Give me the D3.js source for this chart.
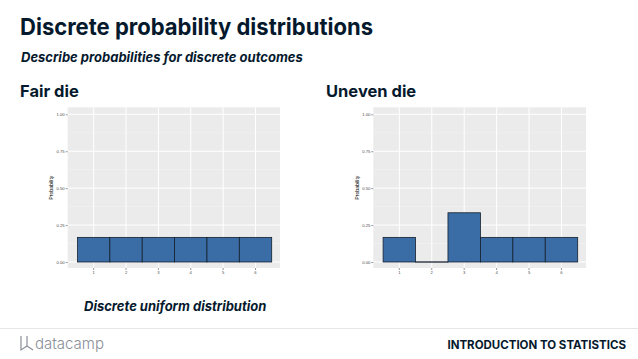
<!DOCTYPE html>
<html><head><meta charset="utf-8">
<script src="https://cdn.jsdelivr.net/npm/d3@7"></script>
<style>body{margin:0;background:#fff}svg{display:block}</style>
</head><body>
<svg id="c" width="638" height="359"></svg>
<script>
const categories = ["1","2","3","4","5","6"];
const fairProb = [1/6,1/6,1/6,1/6,1/6,1/6];
const unevenProb = [1/6,0,2/6,1/6,1/6,1/6];
const yTicks = [0,0.25,0.5,0.75,1];
const yMinor = [0.125,0.375,0.625,0.875];

const svg = d3.select("#c");
const navy = "#05192D";
const font = "Inter, 'Noto Sans', sans-serif";

svg.append("text").attr("x",20).attr("y",35).attr("font-family",font).attr("font-weight",700)
  .attr("font-size",23).attr("fill",navy).attr("textLength",353).attr("lengthAdjust","spacingAndGlyphs")
  .text("Discrete probability distributions");
svg.append("text").attr("x",21).attr("y",62).attr("font-family",font).attr("font-weight",700)
  .attr("font-style","italic").attr("font-size",13).attr("fill",navy).text("Describe probabilities for discrete outcomes");
svg.append("text").attr("x",20).attr("y",97).attr("font-family",font).attr("font-weight",700)
  .attr("font-size",16.5).attr("fill",navy).text("Fair die");
svg.append("text").attr("x",326).attr("y",97).attr("font-family",font).attr("font-weight",700)
  .attr("font-size",16.5).attr("fill",navy).text("Uneven die");
svg.append("text").attr("x",84).attr("y",311).attr("font-family",font).attr("font-weight",700)
  .attr("font-style","italic").attr("font-size",13).attr("fill",navy).text("Discrete uniform distribution");

function panel(x0,x1,vals){
  const top=107.3,bottom=268;
  const y = d3.scaleLinear().domain([0,1]).range([262,114.3]);
  const x = d3.scaleBand().domain(categories).range([x0+9.8,x1-8.3]).paddingInner(0).paddingOuter(0);
  const g = svg.append("g");
  g.append("rect").attr("x",x0).attr("y",top).attr("width",x1-x0).attr("height",bottom-top).attr("fill","#EBEBEB");
  g.selectAll(".mn").data(yMinor).join("line").attr("x1",x0).attr("x2",x1)
    .attr("y1",d=>y(d)).attr("y2",d=>y(d)).attr("stroke","#F5F5F5").attr("stroke-width",0.5);
  g.selectAll(".mj").data(yTicks).join("line").attr("x1",x0).attr("x2",x1)
    .attr("y1",d=>y(d)).attr("y2",d=>y(d)).attr("stroke","#fff").attr("stroke-width",1);
  g.selectAll(".vx").data(categories).join("line").attr("y1",top).attr("y2",bottom)
    .attr("x1",d=>x(d)+x.bandwidth()/2).attr("x2",d=>x(d)+x.bandwidth()/2).attr("stroke","#fff").attr("stroke-width",1);
  g.selectAll(".bar").data(vals).join("rect")
    .attr("x",(d,i)=>x(categories[i])).attr("width",x.bandwidth())
    .attr("y",d=>y(d)).attr("height",d=>Math.max(0.01,y(0)-y(d)))
    .attr("fill","#3A6CA6").attr("stroke","#14202E").attr("stroke-width",0.8);
  g.selectAll(".zero").data(vals.map((v,i)=>[v,i]).filter(d=>d[0]===0)).join("line")
    .attr("x1",d=>x(categories[d[1]])).attr("x2",d=>x(categories[d[1]])+x.bandwidth())
    .attr("y1",y(0)).attr("y2",y(0)).attr("stroke","#14202E").attr("stroke-width",0.8);
  const ya = d3.axisLeft(y).tickValues(yTicks).tickFormat(d3.format(".2f")).tickSize(2).tickPadding(1);
  const yg = g.append("g").attr("transform",`translate(${x0},0)`).call(ya);
  yg.select(".domain").remove();
  yg.selectAll("line").attr("stroke","#333").attr("stroke-width",0.5);
  yg.selectAll("text").attr("font-size",4.2).attr("fill","#4D4D4D").attr("font-family","'Liberation Sans',Arial,sans-serif");
  const xa = d3.axisBottom(x).tickSize(2).tickPadding(1.5);
  const xg = g.append("g").attr("transform",`translate(0,${bottom})`).call(xa);
  xg.select(".domain").remove();
  xg.selectAll("line").attr("stroke","#333").attr("stroke-width",0.5);
  xg.selectAll("text").attr("font-size",4.2).attr("fill","#4D4D4D").attr("font-family","'Liberation Sans',Arial,sans-serif");
  g.append("text").attr("transform",`translate(${x0-14.5},${(top+bottom)/2}) rotate(-90)`)
    .attr("text-anchor","middle").attr("font-size",5.2).attr("fill","#000")
    .attr("font-family","'Liberation Sans',Arial,sans-serif").text("Probability");
}
panel(67.7,280,fairProb);
panel(373.3,586,unevenProb);

svg.append("line").attr("x1",0).attr("x2",638).attr("y1",328.5).attr("y2",328.5).attr("stroke","#E6E6E6").attr("stroke-width",1);
// logo
svg.append("path").attr("d","M21 336 L21 350 L27 346 M27 336 L27 346 M27 346 L33 350")
  .attr("fill","none").attr("stroke","#8A8F98").attr("stroke-width",1.2);
svg.append("text").attr("x",35).attr("y",349).attr("font-family",font).attr("font-weight",300)
  .attr("font-size",15).attr("fill","#8A8F98").text("datacamp");
svg.append("text").attr("x",626).attr("y",349).attr("text-anchor","end").attr("font-family",font).attr("font-weight",700)
  .attr("font-size",11.5).attr("fill",navy).text("INTRODUCTION TO STATISTICS");
</script>
</body></html>
